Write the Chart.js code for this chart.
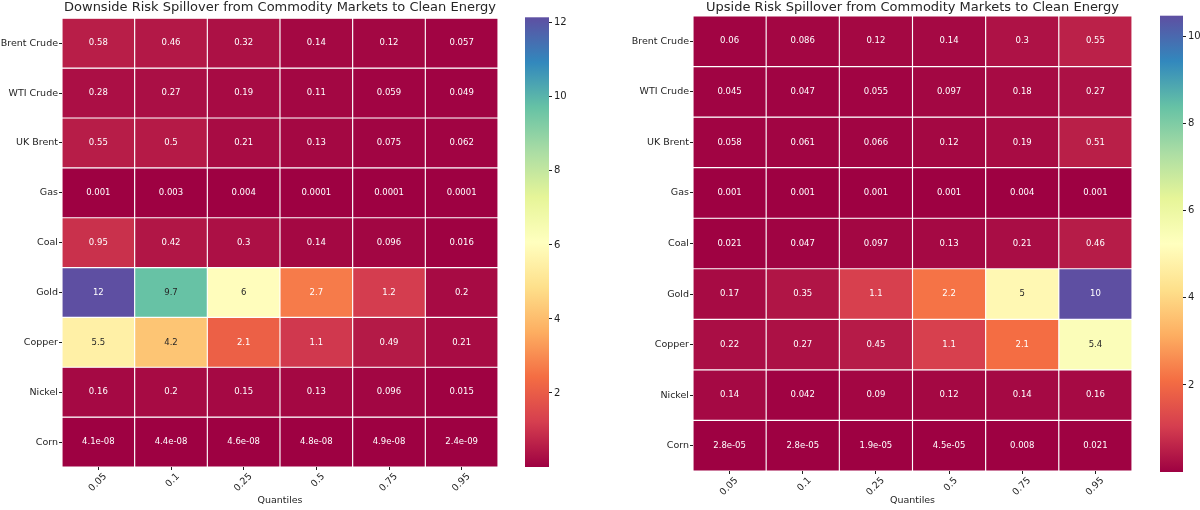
<!DOCTYPE html>
<html>
<head>
<meta charset="utf-8">
<script src="https://cdn.jsdelivr.net/npm/chart.js@4.4.1/dist/chart.umd.min.js"></script>
<style>
  html, body { margin: 0; padding: 0; background: #fff; width: 1200px; height: 510px; overflow: hidden; }
  canvas { position: absolute; top: 0; }
</style>
</head>
<body>
<canvas id="downHeat" width="510" height="510" style="left:0px"></canvas>
<canvas id="downBar" width="75" height="510" style="left:515px"></canvas>
<canvas id="upHeat" width="525" height="510" style="left:620px"></canvas>
<canvas id="upBar" width="50" height="510" style="left:1150px"></canvas>
<script>
// data
const quantiles = ['0.05', '0.1', '0.25', '0.5', '0.75', '0.95'];
const commodities = ['Brent Crude', 'WTI Crude', 'UK Brent', 'Gas', 'Coal', 'Gold', 'Copper', 'Nickel', 'Corn'];

const downside = [
    [0.58, 0.46, 0.32, 0.14, 0.12, 0.057],
    [0.28, 0.27, 0.19, 0.11, 0.059, 0.049],
    [0.55, 0.5, 0.21, 0.13, 0.075, 0.062],
    [0.001, 0.003, 0.004, 0.0001, 0.0001, 0.0001],
    [0.95, 0.42, 0.3, 0.14, 0.096, 0.016],
    [12.15, 9.7, 6, 2.7, 1.2, 0.2],
    [5.5, 4.2, 2.1, 1.1, 0.49, 0.21],
    [0.16, 0.2, 0.15, 0.13, 0.096, 0.015],
    [4.1e-08, 4.4e-08, 4.6e-08, 4.8e-08, 4.9e-08, 2.4e-09]
];

const upside = [
    [0.06, 0.086, 0.12, 0.14, 0.3, 0.55],
    [0.045, 0.047, 0.055, 0.097, 0.18, 0.27],
    [0.058, 0.061, 0.066, 0.12, 0.19, 0.51],
    [0.001, 0.001, 0.001, 0.001, 0.004, 0.001],
    [0.021, 0.047, 0.097, 0.13, 0.21, 0.46],
    [0.17, 0.35, 1.1, 2.2, 5, 10.48],
    [0.22, 0.27, 0.45, 1.1, 2.1, 5.4],
    [0.14, 0.042, 0.09, 0.12, 0.14, 0.16],
    [2.8e-05, 2.8e-05, 1.9e-05, 4.5e-05, 0.008, 0.021]
];

const downTicks = [2, 4, 6, 8, 10, 12];
const upTicks = [2, 4, 6, 8, 10];

// matplotlib "Spectral"
const SPECTRAL = ['#9e0142', '#d53e4f', '#f46d43', '#fdae61', '#fee08b', '#ffffbf',
                  '#e6f598', '#abdda4', '#66c2a5', '#3288bd', '#5e4fa2'];
const FONT = 'DejaVu Sans';
const INK = '#1e1e1e';

function hexToRgb(h) {
    return [1, 3, 5].map(i => parseInt(h.substr(i, 2), 16));
}

function spectral(t) {
    t = Math.max(0, Math.min(1, t));
    const pos = t * (SPECTRAL.length - 1);
    const i = Math.min(Math.floor(pos), SPECTRAL.length - 2);
    const f = pos - i;
    const a = hexToRgb(SPECTRAL[i]), b = hexToRgb(SPECTRAL[i + 1]);
    return a.map((c, k) => Math.round(c + (b[k] - c) * f));
}

function luminance(rgb) {
    const lin = rgb.map(c => {
        c = c / 255;
        return c <= 0.03928 ? c / 12.92 : Math.pow((c + 0.055) / 1.055, 2.4);
    });
    return 0.2126 * lin[0] + 0.7152 * lin[1] + 0.0722 * lin[2];
}

// python-style '.2g'
function fmt(v) {
    if (v === 0) return '0';
    const e = Math.floor(Math.log10(Math.abs(v)));
    if (e < -4 || e >= 2) {
        let [m, ex] = v.toExponential(1).split('e');
        m = m.replace(/\.?0+$/, '');
        const n = parseInt(ex, 10);
        return m + 'e' + (n < 0 ? '-' : '+') + String(Math.abs(n)).padStart(2, '0');
    }
    let s = v.toPrecision(2);
    if (s.indexOf('.') >= 0) s = s.replace(/0+$/, '').replace(/\.$/, '');
    return s;
}

const annotatePlugin = {
    id: 'annotate',
    afterDatasetsDraw(chart) {
        const ctx = chart.ctx;
        ctx.save();
        ctx.font = `8.5px "${FONT}"`;
        ctx.textAlign = 'center';
        ctx.textBaseline = 'middle';
        chart.data.datasets.forEach((ds, di) => {
            chart.getDatasetMeta(di).data.forEach((bar, j) => {
                ctx.fillStyle = ds.textColors[j];
                ctx.fillText(ds.labels[j], bar.x, (bar.y + bar.base) / 2);
            });
        });
        ctx.restore();
    }
};

const gradientPlugin = {
    id: 'cbar',
    beforeDatasetsDraw(chart) {
        const { ctx, chartArea } = chart;
        const y = chart.scales.y;
        const g = ctx.createLinearGradient(0, y.getPixelForValue(y.min), 0, y.getPixelForValue(y.max));
        SPECTRAL.forEach((c, i) => g.addColorStop(i / (SPECTRAL.length - 1), c));
        ctx.save();
        ctx.fillStyle = g;
        ctx.fillRect(chartArea.left, chartArea.top, chartArea.right - chartArea.left, chartArea.bottom - chartArea.top);
        ctx.restore();
    }
};

function makeHeatmap(id, title, values, g) {
    const flat = values.flat();
    const vmin = Math.min(...flat), vmax = Math.max(...flat);
    const datasets = commodities.map((name, i) => {
        const rgbs = values[i].map(v => spectral((v - vmin) / (vmax - vmin)));
        return {
            label: name,
            data: quantiles.map(() => [i, i + 1]),
            backgroundColor: rgbs.map(c => `rgb(${c.join(',')})`),
            textColors: rgbs.map(c => luminance(c) > 0.408 ? '#262626' : '#ffffff'),
            labels: values[i].map(fmt),
            borderColor: '#ffffff',
            borderWidth: 0.9,
            borderSkipped: false,
            barPercentage: 1,
            categoryPercentage: 1
        };
    });

    new Chart(document.getElementById(id), {
        type: 'bar',
        data: { labels: quantiles, datasets },
        options: {
            responsive: false,
            animation: false,
            layout: { padding: { left: 0, right: g.padRight, top: 0, bottom: 0 } },
            plugins: {
                legend: { display: false },
                tooltip: { enabled: false },
                title: {
                    display: true,
                    text: title,
                    fullSize: false,
                    color: '#262626',
                    font: { family: FONT, size: 13, weight: 'normal', lineHeight: 1.2 },
                    padding: { top: 0, bottom: g.titlePad }
                }
            },
            scales: {
                x: {
                    type: 'category',
                    stacked: true,
                    border: { display: false },
                    grid: { drawOnChartArea: false, offset: false, tickLength: 3, color: INK },
                    ticks: {
                        minRotation: 45, maxRotation: 45, labelOffset: 7, padding: 1,
                        color: INK, font: { family: FONT, size: 9.5 }
                    },
                    title: {
                        display: true, text: 'Quantiles', color: INK,
                        font: { family: FONT, size: 9.5 }, padding: { top: 0, bottom: 4 }
                    },
                    afterFit: s => { s.height = g.xHeight; s.paddingLeft = 0; s.paddingRight = 0; }
                },
                y: {
                    type: 'linear',
                    min: 0,
                    max: commodities.length,
                    reverse: true,
                    border: { display: false },
                    grid: { drawOnChartArea: false, tickLength: 3, color: INK },
                    afterBuildTicks: s => { s.ticks = commodities.map((_, i) => ({ value: i + 0.5 })); },
                    ticks: {
                        autoSkip: false, padding: 1, color: INK,
                        font: { family: FONT, size: 9.5 },
                        callback: (v, i) => commodities[i]
                    },
                    afterFit: s => { s.width = g.yWidth; s.paddingTop = 0; s.paddingBottom = 0; }
                }
            }
        },
        plugins: [annotatePlugin]
    });
    return { vmin, vmax };
}

function makeColorbar(id, range, ticks, g) {
    new Chart(document.getElementById(id), {
        type: 'bar',
        data: { labels: [''], datasets: [] },
        options: {
            responsive: false,
            animation: false,
            layout: { padding: { left: g.left, right: 0, top: g.top, bottom: g.bottom } },
            plugins: { legend: { display: false }, tooltip: { enabled: false } },
            scales: {
                x: { display: false },
                y: {
                    position: 'right',
                    min: range.vmin,
                    max: range.vmax,
                    border: { display: false },
                    grid: { drawOnChartArea: false, tickLength: 3, color: INK },
                    afterBuildTicks: s => { s.ticks = ticks.map(v => ({ value: v })); },
                    ticks: { padding: 2, color: INK, font: { family: FONT, size: 10 } },
                    afterFit: s => { s.width = g.width; s.paddingTop = 0; s.paddingBottom = 0; }
                }
            }
        },
        plugins: [gradientPlugin]
    });
}

const downRange = makeHeatmap('downHeat', 'Downside Risk Spillover from Commodity Markets to Clean Energy', downside,
    { padRight: 12, titlePad: 2.7, xHeight: 43, yWidth: 62 });
makeColorbar('downBar', downRange, downTicks, { left: 10, top: 17.3, bottom: 43, width: 41 });

const upRange = makeHeatmap('upHeat', 'Upside Risk Spillover from Commodity Markets to Clean Energy', upside,
    { padRight: 13, titlePad: 0.4, xHeight: 39, yWidth: 73 });
makeColorbar('upBar', upRange, upTicks, { left: 10, top: 15.7, bottom: 38, width: 17 });
</script>
</body>
</html>
